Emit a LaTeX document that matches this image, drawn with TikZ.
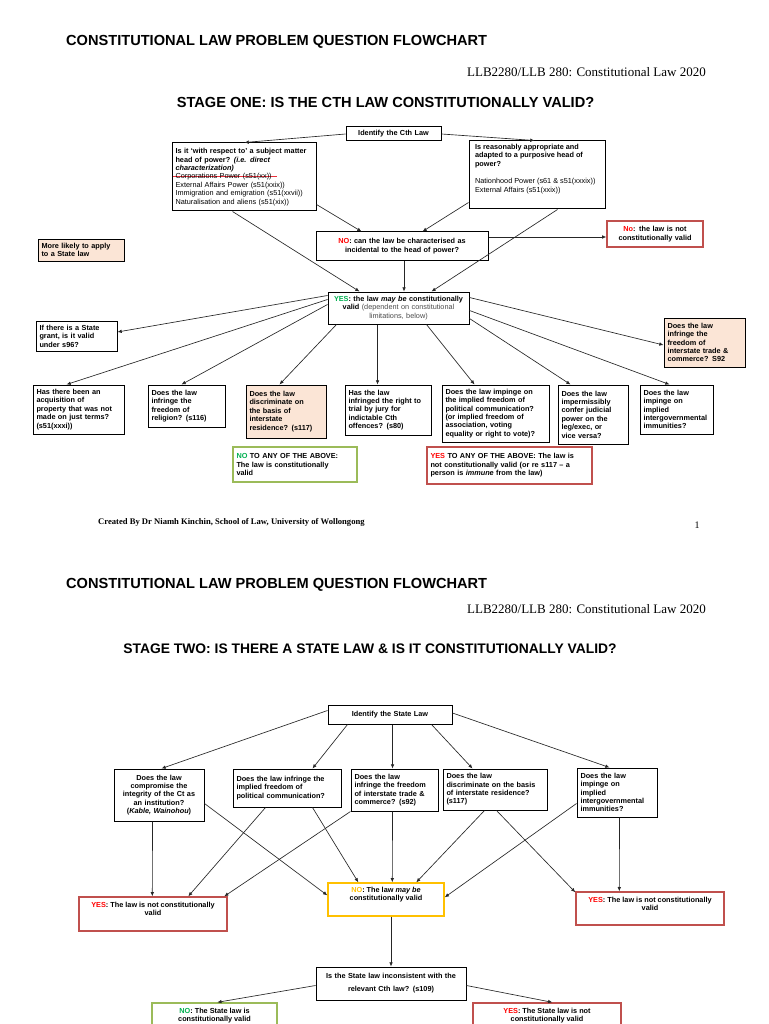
\documentclass[tikz,border=0pt]{standalone}
\usepackage{fontspec}
\setmainfont{Liberation Sans}
\newfontfamily\hdrserif{Liberation Serif}
\usetikzlibrary{arrows.meta}
\definecolor{redbox}{HTML}{C0504D}
\definecolor{greenbox}{HTML}{9BBB59}
\definecolor{yellowbox}{HTML}{FFC000}
\definecolor{peach}{HTML}{FBE5D6}
\definecolor{yesgreen}{HTML}{00B050}
\definecolor{nored}{HTML}{FF0000}
\definecolor{noyellow}{HTML}{FFC000}
\definecolor{strikered}{HTML}{E8303A}
\newcommand\bxf{\fontsize{7.3}{8.4}\selectfont\bfseries}
\newcommand\strk[1]{\leavevmode\hspace*{-3pt}\rlap{\textcolor{strikered}{\rule[1.9pt]{104pt}{0.9pt}}}\hspace*{3pt}#1}
\tikzset{
 bx/.style={draw=black, line width=1pt, inner xsep=3.5pt, inner ysep=1pt, font=\bxf, align=left},
 cbx/.style={bx, align=center},
 redbx/.style={draw=redbox, line width=1.4pt},
 grnbx/.style={draw=greenbox, line width=1.4pt},
 ylwbx/.style={draw=yellowbox, line width=1.4pt},
 pch/.style={fill=peach},
 arr/.style={draw=black!85, line width=0.65pt, -{Latex[length=4.2pt,width=3.6pt]}},
 ttl/.style={font=\fontsize{14.6}{17}\selectfont\bfseries, inner sep=0pt, anchor=base west},
 stg/.style={font=\fontsize{14.6}{17}\selectfont\bfseries, inner sep=0pt, anchor=base},
 stgb/.style={font=\fontsize{13.85}{17}\selectfont\bfseries, inner sep=0pt, anchor=base},
 llb/.style={font=\hdrserif\fontsize{13}{15}\selectfont, inner sep=0pt, anchor=base east},
 foot/.style={font=\hdrserif\fontsize{8.6}{11}\selectfont\bfseries, inner sep=0pt, anchor=base west},
}
\begin{document}
\begin{tikzpicture}[x=1pt,y=-1pt]
\useasboundingbox[fill=white] (0,0) rectangle (768,1024);

% ---------- page 1 headers ----------
\node[ttl] (t1) at (66,46) {CONSTITUTIONAL LAW PROBLEM QUESTION FLOWCHART};
\node[llb] (l1) at (706,77) {LLB2280/LLB 280: Constitutional Law 2020};
\node[stg] (s1) at (385.5,108) {STAGE ONE: IS THE CTH LAW CONSTITUTIONALLY VALID?};

% ---------- stage one nodes ----------
\node[cbx, text width=88pt, minimum height=14pt] (id1) at (393.5,134) {Identify the Cth Law};
\node[bx, text width=137pt, minimum height=68pt] (lb) at (244,177)
 {Is it `with respect to' a subject matter\\
  head of power? \textit{(i.e. direct}\\
  \textit{characterization)}\\
  \mdseries\strk{Corporations Power (s51(xx))}\\
  \mdseries External Affairs Power (s51(xxix))\\
  \mdseries Immigration and emigration (s51(xxvii))\\
  \mdseries Naturalisation and aliens (s51(xix))};
\node[bx, inner xsep=6pt, inner ysep=0pt] (rb) at (537,175)
 {\parbox[c][68pt][t]{124pt}{\raggedright\rule{0pt}{8.5pt}Is reasonably appropriate and\\
  adapted to a purposive head of\\
  power?\\[9pt]
  \mdseries Nationhood Power (s61 \& s51(xxxix))\\
  External Affairs (s51(xxix))}};
\node[cbx, text width=165pt, minimum height=28pt] (noI) at (402,246)
 {\textcolor{nored}{NO}: can the law be characterised as\\incidental to the head of power?};
\node[cbx, redbx, text width=89pt, minimum height=26pt] (noV) at (655,234)
 {\textcolor{nored}{No}: the law is not\\constitutionally valid};
\node[bx, pch, text width=79pt, minimum height=22pt] (more) at (81,250)
 {More likely to apply\\to a State law};
\node[cbx, text width=134pt, minimum height=32pt] (yes1) at (398.5,308)
 {\textcolor{yesgreen}{YES}: the law \textit{may be} constitutionally\\
  valid {\mdseries\color{black!70}(dependent on constitutional}\\
  {\mdseries\color{black!70}limitations, below)}};
\node[bx, text width=74pt, minimum height=30pt] (grant) at (76.5,336)
 {If there is a State\\grant, is it valid\\under s96?};
\node[bx, pch, text width=74pt, minimum height=49pt] (trade) at (704.5,342.5)
 {Does the law\\infringe the\\freedom of\\interstate trade \&\\commerce? S92};
\node[bx, text width=84pt, minimum height=49pt] (acq) at (78.5,409.5)
 {Has there been an\\acquisition of\\property that was not\\made on just terms?\\(s51(xxxi))};
\node[bx, text width=70pt, minimum height=42pt] (rel) at (186.5,406)
 {Does the law\\infringe the\\freedom of\\religion? (s116)};
\node[bx, pch, text width=73pt, minimum height=53pt] (disc) at (286,411.5)
 {Does the law\\discriminate on\\the basis of\\interstate\\residence? (s117)};
\node[bx, text width=79pt, minimum height=50pt] (trial) at (388,410)
 {Has the law\\infringed the right to\\trial by jury for\\indictable Cth\\offences? (s80)};
\node[bx, text width=100pt, minimum height=57pt] (impl) at (495.5,413.5)
 {Does the law impinge on\\the implied freedom of\\political communication?\\(or implied freedom of\\association, voting\\equality or right to vote)?};
\node[bx, text width=63pt, minimum height=59pt] (imperm) at (593,414.5)
 {Does the law\\impermissibly\\confer judicial\\power on the\\leg/exec, or\\vice versa?};
\node[bx, text width=66pt, minimum height=49pt] (intergov) at (676.5,409.5)
 {Does the law\\impinge on\\implied\\intergovernmental\\immunities?};
\node[bx, grnbx, text width=117pt, minimum height=35pt] (noAny) at (295,464.5)
 {\textcolor{yesgreen}{NO} TO ANY OF THE ABOVE:\\The law is constitutionally\\valid};
\node[bx, redbx, text width=158pt, minimum height=37pt] (yesAny) at (509.5,465.5)
 {\textcolor{nored}{YES} TO ANY OF THE ABOVE: The law is\\not constitutionally valid (or re s117 -- a\\person is \textit{immune} from the law)};

% ---------- stage one connectors ----------
\draw[arr] (id1.west) -- ([xshift=73pt]lb.north west);
\draw[arr] (id1.east) -- ([xshift=66pt]rb.north west);
\draw[arr] ([xshift=61pt]lb.south west) -- ([xshift=32pt]yes1.north west);
\draw[arr] ([yshift=7pt]lb.south east) -- ([xshift=46pt]noI.north west);
\draw[arr] ([yshift=7pt]rb.south west) -- ([xshift=107pt]noI.north west);
\draw[arr] ([xshift=89pt]rb.south west) -- ([xshift=104pt]yes1.north west);
\draw[arr] ([yshift=9pt]noI.east) -- ([yshift=-3pt]noV.west);
\draw[arr] ([xshift=2pt]noI.south) -- ([xshift=5.5pt]yes1.north);
\draw[arr] ([yshift=-4pt]yes1.north west) -- ([yshift=4pt]grant.east);
\draw[arr] ([yshift=-8pt]yes1.north west) -- ([xshift=34pt]acq.north west);
\draw[arr] ([yshift=-13pt]yes1.north west) -- ([xshift=34pt]rel.north west);
\draw[arr] ([xshift=9pt]yes1.south west) -- ([xshift=34pt]disc.north west);
\draw[arr] ([xshift=50pt]yes1.south west) -- ([xshift=33pt]trial.north west);
\draw[arr] ([xshift=99pt]yes1.south west) -- ([xshift=33pt]impl.north west);
\draw[arr] ([yshift=6pt]yes1.south east) -- ([xshift=13pt]imperm.north west);
\draw[arr] ([yshift=14pt]yes1.south east) -- ([xshift=30pt]intergov.north west);
\draw[arr] ([yshift=-6pt]yes1.north east) -- ([yshift=-2.5pt]trade.west);

% ---------- footer ----------
\node[foot] (f1) at (98,524) {Created By Dr Niamh Kinchin, School of Law, University of Wollongong};
\node[font=\hdrserif\fontsize{10}{12}\selectfont, inner sep=0pt, anchor=base] (p1) at (697,528) {1};

% ---------- page 2 headers ----------
\node[ttl] (t2) at (66,588) {CONSTITUTIONAL LAW PROBLEM QUESTION FLOWCHART};
\node[llb] (l2) at (706,613) {LLB2280/LLB 280: Constitutional Law 2020};
\node[stgb] (s2) at (370,653) {STAGE TWO: IS THERE A STATE LAW \& IS IT CONSTITUTIONALLY VALID?};

% ---------- stage two nodes ----------
\node[cbx, text width=117pt, minimum height=19pt] (id2) at (390,714.5) {Identify the State Law};
\node[cbx, text width=83pt, minimum height=52pt] (A) at (159,795)
 {Does the law\\compromise the\\integrity of the Ct as\\an institution?\\(\textit{Kable, Wainohou})};
\node[bx, text width=101pt, minimum height=38pt] (B) at (287,788)
 {Does the law infringe the\\implied freedom of\\political communication?};
\node[bx, text width=80pt, minimum height=42pt] (C) at (394.5,790)
 {Does the law\\infringe the freedom\\of interstate trade \&\\commerce? (s92)};
\node[bx, text width=97pt, minimum height=41pt] (D) at (495,789.5)
 {Does the law\\discriminate on the basis\\of interstate residence?\\(s117)};
\node[bx, text width=73pt, minimum height=49pt] (E) at (617,792.5)
 {Does the law\\impinge on\\implied\\intergovernmental\\immunities?};
\node[bx, redbx, inner ysep=0pt] (yesL) at (153,914)
 {\parbox[c][34pt][t]{141pt}{\centering\rule{0pt}{10pt}\textcolor{nored}{YES}: The law is not constitutionally\\valid}};
\node[bx, ylwbx, inner ysep=0pt] (noM) at (386,899.5)
 {\parbox[c][33pt][t]{109pt}{\centering\rule{0pt}{9.5pt}\textcolor{noyellow}{NO}: The law \textit{may be}\\constitutionally valid}};
\node[bx, redbx, inner ysep=0pt] (yesR) at (650,908.5)
 {\parbox[c][33pt][t]{141pt}{\centering\rule{0pt}{10pt}\textcolor{nored}{YES}: The law is not constitutionally\\valid}};
\node[cbx, text width=143pt, minimum height=33pt, font=\fontsize{7.3}{13}\selectfont\bfseries] (incon) at (391,983.5)
 {Is the State law inconsistent with the\\relevant Cth law? (s109)};
\node[bx, grnbx, inner ysep=0pt] (noS) at (214.5,1020)
 {\parbox[c][34pt][t]{118pt}{\centering\rule{0pt}{10.5pt}\textcolor{yesgreen}{NO}: The State law is\\constitutionally valid}};
\node[bx, redbx, inner ysep=0pt] (yesS) at (547,1020)
 {\parbox[c][34pt][t]{141pt}{\centering\rule{0pt}{10.5pt}\textcolor{nored}{YES}: The State law is not\\constitutionally valid}};

% ---------- stage two connectors ----------
\draw[arr] ([yshift=4pt]id2.west) -- ([xshift=48pt]A.north west);
\draw[arr] ([xshift=20pt]id2.south west) -- ([xshift=80pt]B.north west);
\draw[arr] ([xshift=65pt]id2.south west) -- ([xshift=42pt]C.north west);
\draw[arr] ([xshift=104pt]id2.south west) -- ([xshift=30pt]D.north west);
\draw[arr] ([yshift=1.5pt]id2.east) -- ([xshift=33pt]E.north west);
\draw[arr] ([xshift=39pt]A.south west) -- ([xshift=74pt]yesL.north west);
\draw[arr] ([yshift=18pt]A.south east) -- ([yshift=-13pt]noM.north west);
\draw[arr] ([xshift=33pt]B.south west) -- ([xshift=110pt]yesL.north west);
\draw[arr] ([xshift=80pt]B.south west) -- ([xshift=31pt]noM.north west);
\draw[arr] (C.south west) -- ([xshift=146pt]yesL.north west);
\draw[arr] ([xshift=42pt]C.south west) -- ([xshift=65pt]noM.north west);
\draw[arr] ([xshift=42pt]D.south west) -- ([xshift=89pt]noM.north west);
\draw[arr] ([xshift=54pt]D.south west) -- ([yshift=-1pt]yesR.north west);
\draw[arr] ([yshift=14pt]E.south west) -- ([yshift=-15pt]noM.north east);
\draw[arr] ([xshift=43pt]E.south west) -- ([xshift=44pt]yesR.north west);
\draw[arr] ([xshift=5pt]noM.south) -- (incon.north);
\draw[arr] ([yshift=-2pt]incon.west) -- ([xshift=66pt]noS.north west);
\draw[arr] ([yshift=-2pt]incon.east) -- ([xshift=80pt]yesS.north west);
\end{tikzpicture}
\end{document}
